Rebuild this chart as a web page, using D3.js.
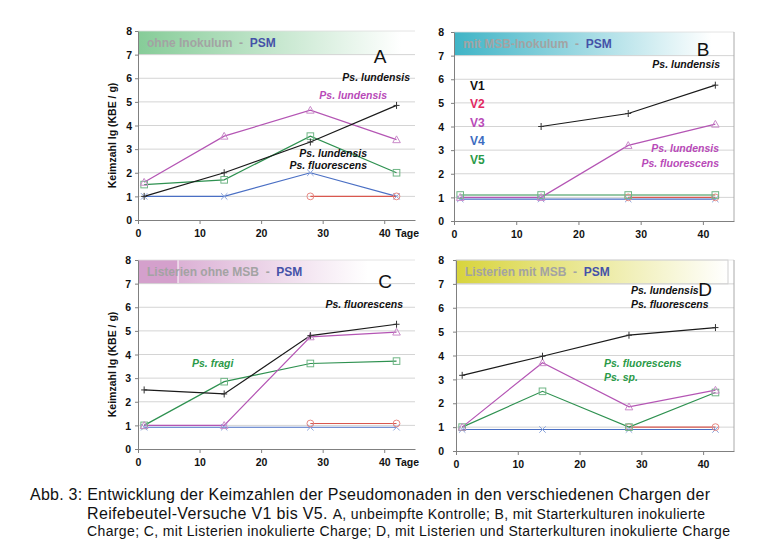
<!DOCTYPE html>
<html>
<head>
<meta charset="utf-8">
<script src="https://cdn.jsdelivr.net/npm/d3@7"></script>
<style>
  body { margin: 0; background: #fff; }
  svg { font-family: "Liberation Sans", Arial, sans-serif; }
</style>
</head>
<body>
<div id="chart"></div>
<script>
// days of sampling
var days = [1, 14, 28, 42];
var xTicks = [0, 10, 20, 30, 40];
var yTicks = [0, 1, 2, 3, 4, 5, 6, 7, 8];
var seriesNames = ["V1", "V2", "V3", "V4", "V5"];

// values per panel, rows = V1..V5, null = no value
var valuesA = [
  [1.0, 2.0, 3.3, 4.85],
  [null, null, 1.0, 1.0],
  [1.6, 3.55, 4.65, 3.4],
  [1.0, 1.0, 2.0, 1.0],
  [1.5, 1.7, 3.55, 2.0]
];
var valuesB = [
  [null, 4.0, 4.55, 5.75],
  [null, null, 1.0, 1.0],
  [1.0, 1.0, 3.2, 4.1],
  [0.93, 0.93, 0.93, 0.93],
  [1.1, 1.1, 1.1, 1.1]
];
var valuesC = [
  [2.5, 2.33, 4.8, 5.28],
  [null, null, 1.08, 1.08],
  [1.0, 1.0, 4.75, 4.95],
  [0.92, 0.92, 0.92, 0.92],
  [1.0, 2.85, 3.62, 3.72]
];
var valuesD = [
  [3.17, 3.97, 4.85, 5.17],
  [null, null, 1.0, 1.0],
  [1.0, 3.7, 1.85, 2.55],
  [0.9, 0.9, 0.9, 0.9],
  [1.0, 2.5, 1.0, 2.45]
];
var bannerTitles = ["ohne Inokulum", "mit MSB-Inokulum", "Listerien ohne MSB", "Listerien mit MSB"];
var panelLetters = ["A", "B", "C", "D"];

var lineColors = ["#1a1a1a", "#d9584f", "#b455b4", "#4a6fc4", "#2e9150"];
var markColors = ["#444", "#e88a84", "#c98ac9", "#8aa3dc", "#6fb585"];
var legendColors = ["#111", "#e22a62", "#b84ab8", "#3b6cc0", "#2a9a48"];

var svg = d3.select("#chart").append("svg")
  .attr("width", 773).attr("height", 552);

var defs = svg.append("defs");
function grad(id, c, stopAt) {
  var g = defs.append("linearGradient").attr("id", id)
    .attr("x1", "0%").attr("x2", "100%").attr("y1", "0%").attr("y2", "0%");
  g.append("stop").attr("offset", "0%").attr("stop-color", c);
  g.append("stop").attr("offset", stopAt).attr("stop-color", "#fff");
}
grad("gA", "#86cc98", "95%");
grad("gB", "#3fb4c6", "100%");
grad("gC", "#d4a0cc", "100%");
grad("gD", "#d8d43c", "100%");

var panels = [
  {vals: valuesA, left: 138, top: 31, w: 277, h: 189, grad: "gA", bw: 277, lblOff: 6, yTitle: true, tage: true, border: false},
  {vals: valuesB, left: 454, top: 32, w: 280, h: 189, grad: "gB", bw: 258, lblOff: 10, yTitle: false, tage: false, border: true},
  {vals: valuesC, left: 138, top: 260, w: 277, h: 189, grad: "gC", bw: 230, lblOff: 7, yTitle: true, tage: true, border: false},
  {vals: valuesD, left: 456, top: 260, w: 278, h: 191, grad: "gD", bw: 272, lblOff: 12, yTitle: false, tage: false, border: true}
];

function marker(g, i, x, y) {
  var c = markColors[i];
  if (i === 0) {
    g.append("path").attr("d", "M" + (x - 3) + "," + y + "h6M" + x + "," + (y - 3.5) + "v7")
      .attr("stroke", "#333").attr("stroke-width", 1);
  } else if (i === 1) {
    g.append("circle").attr("cx", x).attr("cy", y).attr("r", 3.4)
      .attr("fill", "none").attr("stroke", c).attr("stroke-width", 1);
  } else if (i === 2) {
    g.append("path").attr("d", "M" + x + "," + (y - 3.8) + "L" + (x + 3.8) + "," + (y + 3) + "L" + (x - 3.8) + "," + (y + 3) + "Z")
      .attr("fill", "none").attr("stroke", c).attr("stroke-width", 1);
  } else if (i === 3) {
    g.append("path").attr("d", "M" + (x - 3.2) + "," + (y - 3.2) + "l6.4,6.4M" + (x + 3.2) + "," + (y - 3.2) + "l-6.4,6.4")
      .attr("stroke", c).attr("stroke-width", 1);
  } else {
    g.append("rect").attr("x", x - 3.3).attr("y", y - 3.3).attr("width", 6.6).attr("height", 6.6)
      .attr("fill", "none").attr("stroke", c).attr("stroke-width", 1);
  }
}

panels.forEach(function(p, pi) {
  var x = d3.scaleLinear().domain([0, 45]).range([p.left, p.left + p.w]);
  var y = d3.scaleLinear().domain([0, 8]).range([p.top + p.h, p.top]);
  var g = svg.append("g");

  // banner between 7 and 8
  g.append("rect").attr("x", p.left).attr("y", y(8)).attr("width", p.bw).attr("height", y(7) - y(8))
    .attr("fill", "url(#" + p.grad + ")");
  if (pi === 2) {
    g.append("rect").attr("x", p.left).attr("y", y(8)).attr("width", 40).attr("height", y(7) - y(8))
      .attr("fill", "#d4a0cc");
    g.append("line").attr("x1", p.left + 40).attr("x2", p.left + 40).attr("y1", y(8)).attr("y2", y(7))
      .attr("stroke", "#fff").attr("stroke-width", 1);
  }
  if (pi === 3) {
    g.append("rect").attr("x", p.left).attr("y", y(8)).attr("width", p.bw).attr("height", y(7) - y(8))
      .attr("fill", "none").attr("stroke", "#c4c4c4").attr("stroke-width", 0.8);
  }

  // gridlines
  g.selectAll(".grid").data(yTicks.slice(1, 8)).enter().append("line")
    .attr("x1", p.left).attr("x2", p.left + p.w)
    .attr("y1", function(d) { return y(d); }).attr("y2", function(d) { return y(d); })
    .attr("stroke", "#d4d4d4").attr("stroke-width", 1);
  g.append("line").attr("x1", p.left).attr("x2", p.left + p.w).attr("y1", y(8)).attr("y2", y(8))
    .attr("stroke", "#ddd").attr("stroke-width", 0.8);
  if (p.border) {
    g.append("line").attr("x1", p.left + p.w).attr("x2", p.left + p.w).attr("y1", y(8)).attr("y2", y(0))
      .attr("stroke", "#aaa").attr("stroke-width", 1);
  }

  // axes
  var xAxis = d3.axisBottom(x).tickValues(xTicks).tickSize(4).tickSizeOuter(0);
  var yAxis = d3.axisLeft(y).tickValues(yTicks).tickSize(3).tickSizeOuter(0);
  var gx = g.append("g").attr("transform", "translate(0," + y(0) + ")").call(xAxis);
  var gy = g.append("g").attr("transform", "translate(" + p.left + ",0)").call(yAxis);
  [gx, gy].forEach(function(a) {
    a.select(".domain").attr("stroke", "#808080");
    a.selectAll(".tick line").attr("stroke", "#808080");
    a.selectAll(".tick text").attr("fill", "#111").attr("font-size", 10.5).attr("font-weight", "bold")
      .attr("font-family", "Liberation Sans, Arial, sans-serif");
  });
  gx.selectAll(".tick text").attr("dy", 0).attr("y", 17);
  gy.selectAll(".tick text").attr("x", -p.lblOff).attr("dy", "0.35em");

  // series
  var line = d3.line()
    .defined(function(d) { return d[1] !== null; })
    .x(function(d) { return x(d[0]); })
    .y(function(d) { return y(d[1]); });
  var order = [3, 1, 4, 2, 0];
  order.forEach(function(si) {
    var pts = days.map(function(dd, k) { return [dd, p.vals[si][k]]; });
    g.append("path").attr("d", line(pts)).attr("fill", "none")
      .attr("stroke", lineColors[si]).attr("stroke-width", 1.2);
  });
  order.forEach(function(si) {
    days.forEach(function(dd, k) {
      var v = p.vals[si][k];
      if (v !== null) marker(g, si, x(dd), y(v));
    });
  });

  // banner text
  var bt = g.append("text").attr("x", p.left + 9).attr("y", y(8) + 15.5)
    .attr("font-size", 12).attr("font-weight", "bold");
  bt.append("tspan").attr("fill", "#a3a3a3").text(bannerTitles[pi] + "\u00a0\u00a0-\u00a0\u00a0");
  bt.append("tspan").attr("fill", "#4552a8").text("PSM");

  // axis titles
  if (p.yTitle) {
    g.append("text").attr("transform", "translate(" + (p.left - 22) + "," + (p.top + p.h / 2 + 10) + ") rotate(-90)")
      .attr("text-anchor", "middle").attr("font-size", 10.5).attr("font-weight", "bold")
      .attr("fill", "#111").text("Keimzahl lg (KBE / g)");
  }
  if (p.tage) {
    g.append("text").attr("x", x(41.8)).attr("y", y(0) + 17).attr("font-size", 10.5)
      .attr("font-weight", "bold").attr("fill", "#111").text("Tage");
  }
});

// panel letters
var letterPos = [[380, 63], [703, 56], [385, 288], [705, 296]];
svg.selectAll(".letter").data(panelLetters).enter().append("text")
  .attr("x", function(d, i) { return letterPos[i][0]; })
  .attr("y", function(d, i) { return letterPos[i][1]; })
  .attr("text-anchor", "middle").attr("font-size", 19).attr("fill", "#111")
  .text(function(d) { return d; });

// species annotations
var notes = [
  {t: "Ps. lundensis", x: 410, y: 81, a: "end", c: "#111"},
  {t: "Ps. lundensis", x: 387, y: 99, a: "end", c: "#b84ab8"},
  {t: "Ps. lundensis", x: 367, y: 157, a: "end", c: "#111"},
  {t: "Ps. fluorescens", x: 367, y: 169, a: "end", c: "#111"},
  {t: "Ps. lundensis", x: 720, y: 68, a: "end", c: "#111"},
  {t: "Ps. lundensis", x: 719, y: 152, a: "end", c: "#b84ab8"},
  {t: "Ps. fluorescens", x: 719, y: 167, a: "end", c: "#b84ab8"},
  {t: "Ps. fluorescens", x: 403, y: 308, a: "end", c: "#111"},
  {t: "Ps. fragi", x: 192, y: 367, a: "start", c: "#2a9a48"},
  {t: "Ps. lundensis", x: 631, y: 294, a: "start", c: "#111"},
  {t: "Ps. fluorescens", x: 631, y: 308, a: "start", c: "#111"},
  {t: "Ps. fluorescens", x: 604, y: 367, a: "start", c: "#2a9a48"},
  {t: "Ps. sp.", x: 604, y: 381, a: "start", c: "#2a9a48"}
];
svg.selectAll(".note").data(notes).enter().append("text")
  .attr("x", function(d) { return d.x; }).attr("y", function(d) { return d.y; })
  .attr("text-anchor", function(d) { return d.a; })
  .attr("font-size", 10.5).attr("font-weight", "bold").attr("font-style", "italic")
  .attr("fill", function(d) { return d.c; })
  .text(function(d) { return d.t; });

// legend in panel B
svg.selectAll(".leg").data(seriesNames).enter().append("text")
  .attr("x", 470).attr("y", function(d, i) { return 90 + i * 18.4; })
  .attr("font-size", 12).attr("font-weight", "bold")
  .attr("fill", function(d, i) { return legendColors[i]; })
  .text(function(d) { return d; });

// caption
var cap = svg.append("g").attr("fill", "#111")
  .attr("font-family", "'Liberation Sans Narrow', 'Arial Narrow', 'Liberation Sans', sans-serif");
cap.append("text").attr("x", 30).attr("y", 500).attr("font-size", 16)
  .attr("textLength", 680).attr("lengthAdjust", "spacing")
  .text("Abb. 3: Entwicklung der Keimzahlen der Pseudomonaden in den verschiedenen Chargen der");
var l2 = cap.append("text").attr("x", 87).attr("y", 519)
  .attr("textLength", 618).attr("lengthAdjust", "spacing");
l2.append("tspan").attr("font-size", 16).text("Reifebeutel-Versuche V1 bis V5. ");
l2.append("tspan").attr("font-size", 14).text("A, unbeimpfte Kontrolle; B, mit Starterkulturen inokulierte");
cap.append("text").attr("x", 87).attr("y", 536).attr("font-size", 14)
  .attr("textLength", 643).attr("lengthAdjust", "spacing")
  .text("Charge; C, mit Listerien inokulierte Charge; D, mit Listerien und Starterkulturen inokulierte Charge");
</script>
</body>
</html>
